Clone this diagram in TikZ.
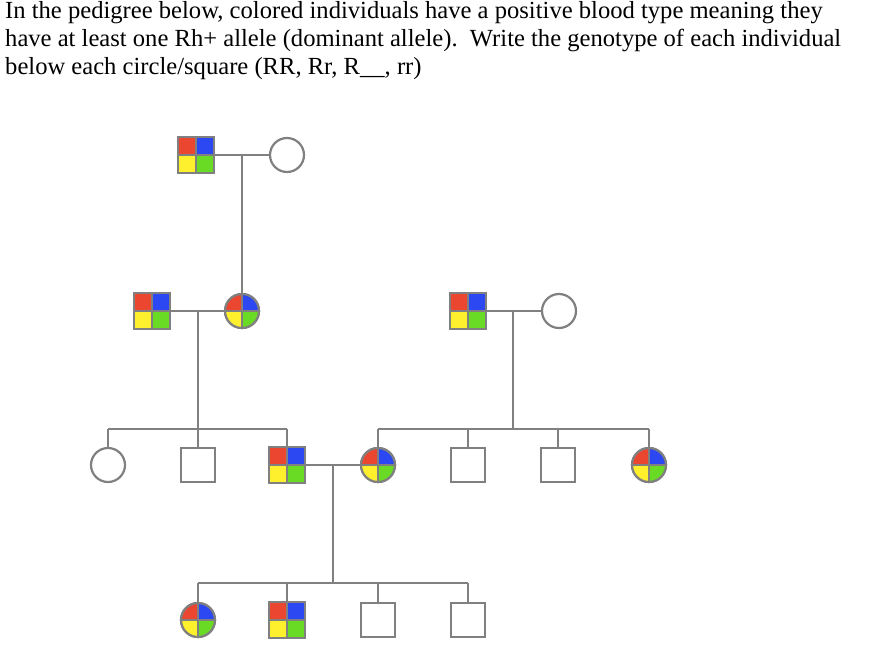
\documentclass[tikz,border=0pt]{standalone}
\usepackage{fontspec}
\setmainfont{Liberation Serif}
\definecolor{cr}{HTML}{EA4630}
\definecolor{cb}{HTML}{2B48F2}
\definecolor{cy}{HTML}{FFF02E}
\definecolor{cg}{HTML}{6ADB24}
\definecolor{ln}{HTML}{808080}
\tikzset{
  sq/.style={draw=ln,line width=2.2pt,minimum size=34pt,inner sep=0,fill=white},
  ci/.style={draw=ln,circle,line width=2.2pt,minimum size=34pt,inner sep=0,fill=white},
  wire/.style={draw=ln,line width=2.2pt},
  txt/.style={anchor=north west,inner sep=0,font=\fontsize{24.6}{28}\selectfont}
}
\newcommand{\csq}[2]{%
  \fill[cr] (#1,#2) rectangle ++(-17,-17);
  \fill[cb] (#1,#2) rectangle ++(17,-17);
  \fill[cy] (#1,#2) rectangle ++(-17,17);
  \fill[cg] (#1,#2) rectangle ++(17,17);
  \draw[ln,line width=2.2pt] (#1-17,#2) -- (#1+17,#2) (#1,#2-17) -- (#1,#2+17);}
\newcommand{\cci}[2]{%
  \fill[cr] (#1,#2) -- ++(-17,0) arc[start angle=180,end angle=270,radius=17] -- cycle;
  \fill[cb] (#1,#2) -- ++(0,-17) arc[start angle=270,end angle=360,radius=17] -- cycle;
  \fill[cy] (#1,#2) -- ++(-17,0) arc[start angle=180,end angle=90,radius=17] -- cycle;
  \fill[cg] (#1,#2) -- ++(17,0) arc[start angle=0,end angle=90,radius=17] -- cycle;
  \draw[ln,line width=2.2pt] (#1-17,#2) -- (#1+17,#2) (#1,#2-17) -- (#1,#2+17);}
\begin{document}
\begin{tikzpicture}[x=1pt,y=-1pt]
\useasboundingbox (0,0) rectangle (894,654);
\node[txt] (t1) at (5,1) {In the pedigree below, colored individuals have a positive blood type meaning they};
\node[txt] (t2) at (5,29) {have at least one Rh+ allele (dominant allele).\ \ Write the genotype of each individual};
\node[txt] (t3) at (5,57) {below each circle/square (RR, Rr, R\_\_, rr)};
\coordinate (j1) at (242,155);
\coordinate (j2) at (198,311);
\coordinate (j3) at (513,311);
\coordinate (j4) at (333,465);
\coordinate (l1) at (108,429); \coordinate (l2) at (287,429);
\coordinate (r1) at (378,429); \coordinate (r2) at (649,429);
\coordinate (b1) at (198,583); \coordinate (b2) at (468,583);
\node[sq] (a1) at (196,155) {};
\node[ci] (a2) at (287,155) {};
\node[sq] (b1n) at (152,311) {};
\node[ci] (b2n) at (242,311) {};
\node[sq] (b3n) at (468,311) {};
\node[ci] (b4n) at (559,311) {};
\node[ci] (c1) at (108,465) {};
\node[sq] (c2) at (198,465) {};
\node[sq] (c3) at (287,465) {};
\node[ci] (c4) at (378,465) {};
\node[sq] (c5) at (468,465) {};
\node[sq] (c6) at (558,465) {};
\node[ci] (c7) at (649,465) {};
\node[ci] (d1) at (198,620) {};
\node[sq] (d2) at (287,620) {};
\node[sq] (d3) at (378,620) {};
\node[sq] (d4) at (468,620) {};
\draw[wire] (a1) -- (a2) (j1) -- (b2n);
\draw[wire] (b1n) -- (b2n) (j2) -- (198,429) (l1) -- (l2);
\draw[wire] (b3n) -- (b4n) (j3) -- (513,429) (r1) -- (r2);
\draw[wire] (l1) -- (c1) (198,429) -- (c2) (l2) -- (c3);
\draw[wire] (r1) -- (c4) (468,429) -- (c5) (558,429) -- (c6) (r2) -- (c7);
\draw[wire] (c3) -- (c4) (j4) -- (333,583) (b1) -- (b2);
\draw[wire] (b1) -- (d1) (287,583) -- (d2) (378,583) -- (d3) (b2) -- (d4);
\csq{196}{155} \csq{152}{311} \csq{468}{311} \csq{287}{465} \csq{287}{620}
\cci{242}{311} \cci{378}{465} \cci{649}{465} \cci{198}{620}
\foreach \n in {a1,b1n,b3n,c3,d2} \draw[ln,line width=2.2pt] (\n.north west) rectangle (\n.south east);
\foreach \n in {b2n,c4,c7,d1} \draw[ln,line width=2.2pt] (\n) circle[radius=17];
\end{tikzpicture}
\end{document}
